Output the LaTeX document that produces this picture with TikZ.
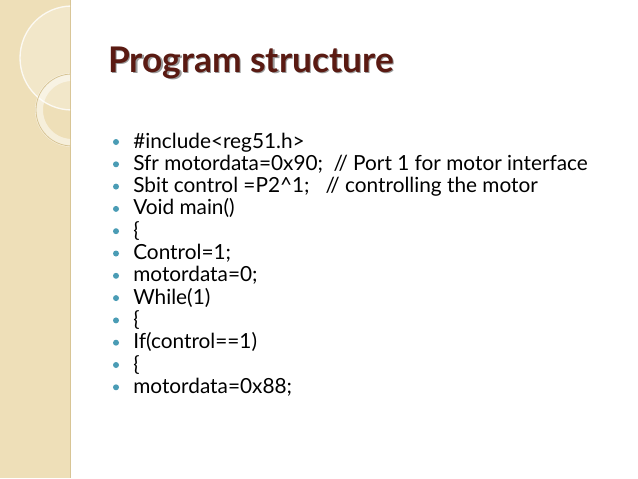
\documentclass[tikz,border=0pt]{standalone}
\usepackage{fontspec}
\setmainfont{Lato}
\definecolor{beige}{HTML}{EEDFB8}
\definecolor{beigeD}{HTML}{D8C595}
\definecolor{ttl}{HTML}{5A1A12}
\definecolor{bul}{HTML}{4A9CB5}
\begin{document}
\begin{tikzpicture}[x=0.75pt,y=-0.75pt,
  line/.style={anchor=base west,font=\fontsize{15.6}{18}\selectfont,inner sep=0pt},
  bl/.style={circle,fill=bul,inner sep=0pt,minimum size=4.5pt}]
\useasboundingbox (0,0) rectangle (638,478);
\fill[white] (0,0) rectangle (638,478);
\fill[beige] (0,0) rectangle (70,478);
\draw[beigeD,line width=1.2pt] (70.5,0) -- (70.5,478);
\begin{scope}
\clip (0,0) rectangle (70,478);
\fill[white,opacity=0.25] (72,58) circle (52);
\draw[white,opacity=0.8,line width=1pt] (72,58) circle (52);
\draw[white,opacity=0.5,line width=6pt] (72,110) circle (33);
\draw[beigeD,line width=0.6pt] (72,110) circle (36);
\end{scope}
\node[anchor=base west,inner sep=0pt,font=\fontsize{26.5}{30}\selectfont\bfseries,text=black!40] at (109.5,74) {Program structure};
\node (t) [anchor=base west,inner sep=0pt,font=\fontsize{26.5}{30}\selectfont\bfseries,text=ttl] at (108,72.5) {Program structure};
\foreach \i/\s in {0/{\#include<reg51.h>},1/{Sfr motordata=0x90;\ \ // Port 1 for motor interface},2/{Sbit control =P2\^{}1;\ \ \ // controlling the motor},3/{Void main()},4/{\{},5/{Control=1;},6/{motordata=0;},7/{While(1)},8/{\{},9/{If(control==1)},10/{\{},11/{motordata=0x88;}}{
  \node[bl] (b\i) at (116,{142+22.3*\i}) {};
  \node[line] (l\i) at (133,{148+22.3*\i}) {\s};
}
\end{tikzpicture}
\end{document}
